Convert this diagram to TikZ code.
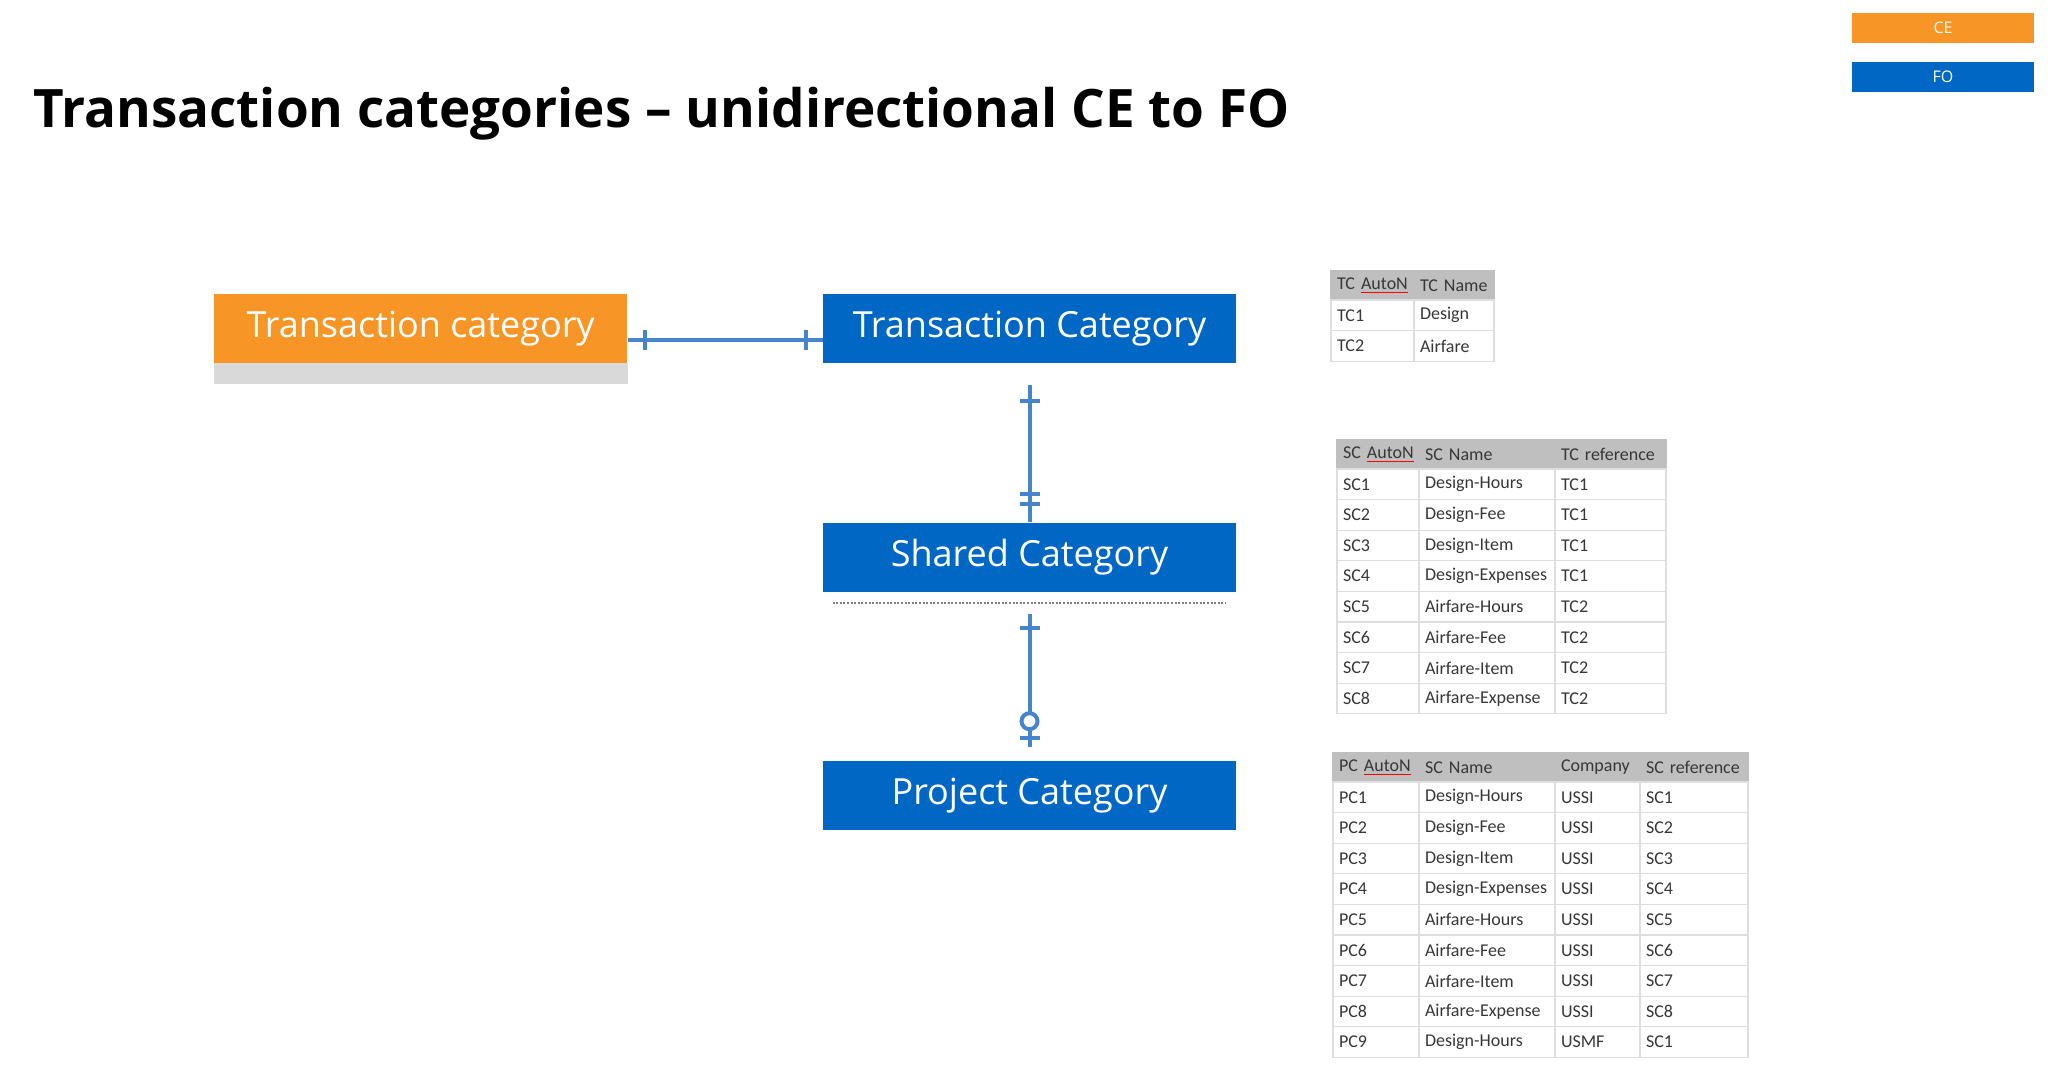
\documentclass[tikz,border=0pt]{standalone}
\usepackage{fontspec}
\setmainfont{Open Sans}
\newfontfamily\tblfont{Carlito}
\usepackage{xcolor}
\definecolor{ceorange}{RGB}{247,150,38}
\definecolor{foblue}{RGB}{0,103,197}
\definecolor{strip}{RGB}{217,217,217}
\definecolor{link}{RGB}{70,132,204}
\definecolor{hdrgray}{RGB}{191,191,191}
\definecolor{gridgray}{RGB}{222,222,222}
\definecolor{ink}{RGB}{55,55,55}
\usetikzlibrary{arrows.meta,positioning,matrix,calc}
\newcommand\spellmark[1]{\textcolor{red}{\underline{\textcolor{ink}{#1}}}}
\tikzset{
  %% entity boxes
  entity/.style={minimum width=206.5pt, minimum height=34.5pt, inner sep=0pt,
    text=white, font=\fontsize{18}{21}\selectfont},
  ceblock/.style={entity, fill=ceorange},
  foblock/.style={entity, fill=foblue},
  legendbox/.style={minimum width=91pt, minimum height=15pt, inner sep=0pt,
    text=white, font=\fontsize{8}{9}\selectfont},
  erline/.style={draw=link, line width=2pt},
  %% sample tables
  tbl/.style={matrix of nodes, inner sep=0pt, anchor=north west,
    column sep=-0.6pt, row sep=-0.6pt,
    nodes={draw=gridgray, line width=0.6pt, fill=white, minimum height=15.3pt,
      inner xsep=3pt, inner ysep=0pt, text=ink, anchor=center,
      font=\tblfont\fontsize{9}{10.5}\selectfont},
    row 1/.style={nodes={fill=hdrgray, draw=hdrgray, minimum height=14.5pt}}},
}

\begin{document}
\begin{tikzpicture}[x=0.5pt,y=-0.5pt]
\useasboundingbox[fill=white] (0,0) rectangle (2048,1088);

\node[anchor=base west, inner sep=0pt, font=\bfseries\fontsize{26.5}{30}\selectfont]
  (title) at (33,127) {Transaction categories – unidirectional CE to FO};

%% legend
\node[legendbox, fill=ceorange] (lgce) at (1943,28) {CE};
\node[legendbox, fill=foblue, below=9pt of lgce] (lgfo) {FO};

%% entities
\node[foblock] (tc) at (1029.5,328.5) {Transaction Category};
\node[ceblock, left=97.5pt of tc] (ce) {Transaction category};
\fill[strip] (ce.south west) rectangle ([yshift=-10.5pt]ce.south east);
\node[foblock, below=79.5pt of tc] (sc) {Shared Category};
\node[foblock, below=84pt of sc] (pc) {Project Category};
\draw[gray, line width=1pt, dash pattern=on 1pt off 0.8pt]
  ([xshift=5pt,yshift=-5.5pt]sc.south west) -- ([xshift=-5pt,yshift=-5.5pt]sc.south east);

%% CE -> FO link
\coordinate (ceend) at ([yshift=-5.75pt]ce.east);
\coordinate (tcend) at ([yshift=-5.75pt]tc.west);
\draw[erline] (ceend) -- (tcend);
\draw[erline] ([xshift=8.5pt,yshift=5pt]ceend) -- ++(0,-10pt);
\draw[erline] ([xshift=-8.5pt,yshift=5pt]tcend) -- ++(0,-10pt);

%% transaction -> shared
\coordinate (tcfoot) at ([yshift=-11pt]tc.south);
\draw[erline] (tcfoot) -- (sc.north);
\draw[erline] ([xshift=-5pt,yshift=-8pt]tcfoot) -- ++(10pt,0);
\draw[erline] ([xshift=-5pt,yshift=14pt]sc.north) -- ++(10pt,0);
\draw[erline] ([xshift=-5pt,yshift=9pt]sc.north) -- ++(10pt,0);

%% shared -> project
\coordinate (scfoot) at ([yshift=-11pt]sc.south);
\coordinate (pchead) at ([yshift=6.5pt]pc.north);
\draw[erline] (scfoot) -- (pchead);
\draw[erline] ([xshift=-5pt,yshift=-7pt]scfoot) -- ++(10pt,0);
\draw[erline, fill=white] ([yshift=19.5pt]pc.north) circle[radius=4pt];
\draw[erline] ([xshift=-5pt,yshift=11pt]pc.north) -- ++(10pt,0);

%% tables
\matrix (tctab) [tbl,
  column 1/.style={nodes={text width=35.5pt}},
  column 2/.style={nodes={text width=34pt}}] at (1330,270) {
  \mbox{TC \spellmark{AutoN}} & \mbox{TC Name} \\
  TC1 & Design \\
  TC2 & Airfare \\
};

\matrix (sctab) [tbl,
  column 1/.style={nodes={text width=35pt}},
  column 2/.style={nodes={text width=62pt}},
  column 3/.style={nodes={text width=49.5pt}}] at (1336,439) {
  \mbox{SC \spellmark{AutoN}} & \mbox{SC Name} & \mbox{TC reference} \\
  SC1 & Design-Hours & TC1 \\
  SC2 & Design-Fee & TC1 \\
  SC3 & Design-Item & TC1 \\
  SC4 & \mbox{Design-Expenses} & TC1 \\
  SC5 & Airfare-Hours & TC2 \\
  SC6 & Airfare-Fee & TC2 \\
  SC7 & Airfare-Item & TC2 \\
  SC8 & \mbox{Airfare-Expense} & TC2 \\
};

\matrix (pctab) [tbl,
  column 1/.style={nodes={text width=37pt}},
  column 2/.style={nodes={text width=62pt}},
  column 3/.style={nodes={text width=36.5pt}},
  column 4/.style={nodes={text width=48pt}}] at (1332,752) {
  \mbox{PC \spellmark{AutoN}} & \mbox{SC Name} & \mbox{Company} & \mbox{SC reference} \\
  PC1 & Design-Hours & USSI & SC1 \\
  PC2 & Design-Fee & USSI & SC2 \\
  PC3 & Design-Item & USSI & SC3 \\
  PC4 & \mbox{Design-Expenses} & USSI & SC4 \\
  PC5 & Airfare-Hours & USSI & SC5 \\
  PC6 & Airfare-Fee & USSI & SC6 \\
  PC7 & Airfare-Item & USSI & SC7 \\
  PC8 & \mbox{Airfare-Expense} & USSI & SC8 \\
  PC9 & Design-Hours & USMF & SC1 \\
};
\end{tikzpicture}
\end{document}
